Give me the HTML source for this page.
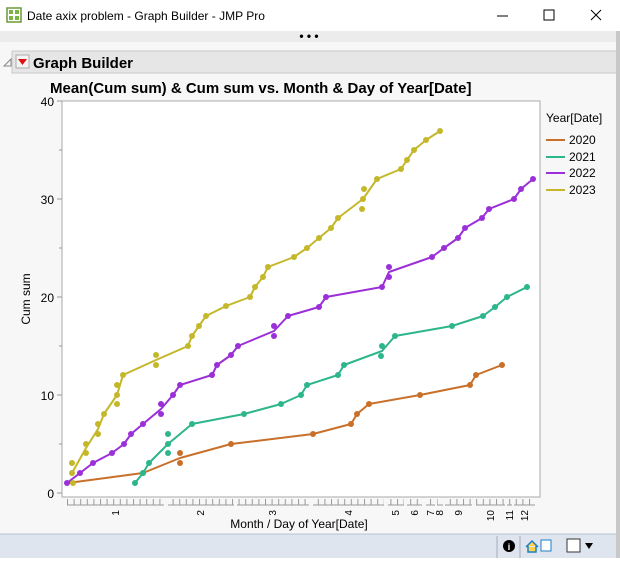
<!DOCTYPE html>
<html><head><meta charset="utf-8"><style>
body{margin:0;width:620px;height:558px;overflow:hidden;background:#fff;font-family:"Liberation Sans",sans-serif;}
</style></head><body>
<svg width="620" height="558" xmlns="http://www.w3.org/2000/svg" font-family="Liberation Sans, sans-serif">
<defs>
<pattern id="tk" x="67" y="0" width="6.6" height="10" patternUnits="userSpaceOnUse"><line x1="0.5" y1="0" x2="0.5" y2="10" stroke="#999" stroke-width="1"/></pattern>
</defs>
<rect x="0" y="0" width="620" height="558" fill="#f6f6f6"/>
<rect x="0" y="0" width="620" height="31" fill="#fff"/>
<rect x="7" y="8" width="14" height="14" fill="none" stroke="#6a9a3a" stroke-width="1.5"/>
<rect x="9" y="10" width="4" height="4" fill="#7cb342"/><rect x="15" y="10" width="4" height="4" fill="#7cb342"/><rect x="9" y="16" width="4" height="4" fill="#7cb342"/><rect x="15" y="16" width="4" height="4" fill="#7cb342"/>
<text x="27" y="20" font-size="12" fill="#000">Date axix problem - Graph Builder - JMP Pro</text>
<line x1="497" y1="16" x2="508" y2="16" stroke="#000"/>
<rect x="544" y="10" width="10" height="10" fill="none" stroke="#000"/>
<path d="M591 10 L601 20 M601 10 L591 20" stroke="#000"/>
<rect x="0" y="31" width="616" height="11" fill="#ececec"/>
<text x="309" y="40" font-size="12" text-anchor="middle" font-weight="bold">• • •</text>
<rect x="0" y="42" width="616" height="494" fill="#f7f7f7"/>
<path d="M4 66 L11 59 L11 66 Z" fill="none" stroke="#888"/>
<rect x="12" y="51" width="608" height="22" fill="#e6e6e6" stroke="#c8c8c8"/>
<rect x="16" y="55" width="13" height="13" fill="#f4f4f4" stroke="#aaa"/>
<path d="M18 59 L27 59 L22.5 65 Z" fill="#d11"/>
<text x="33" y="68" font-size="15" font-weight="bold">Graph Builder</text>
<text x="50" y="93" font-size="15" font-weight="bold">Mean(Cum sum) &amp; Cum sum vs. Month &amp; Day of Year[Date]</text>
<rect x="62" y="101" width="478" height="396" fill="#fff" stroke="#aaa"/>
<g stroke="#999"><line x1="57" y1="101" x2="62" y2="101"/><line x1="57" y1="199" x2="62" y2="199"/><line x1="57" y1="297" x2="62" y2="297"/><line x1="57" y1="395" x2="62" y2="395"/><line x1="57" y1="493" x2="62" y2="493"/><line x1="59" y1="150" x2="62" y2="150"/><line x1="59" y1="248" x2="62" y2="248"/><line x1="59" y1="346" x2="62" y2="346"/><line x1="59" y1="444" x2="62" y2="444"/></g>
<g font-size="12" text-anchor="end" fill="#000"><text x="54" y="106">40</text><text x="54" y="204">30</text><text x="54" y="302">20</text><text x="54" y="400">10</text><text x="54" y="498">0</text></g>
<text transform="translate(30 299) rotate(-90)" font-size="12" text-anchor="middle">Cum sum</text>
<g fill="url(#tk)">
<rect x="67" y="499" width="97" height="6"/><rect x="168" y="499" width="66" height="6"/><rect x="237" y="499" width="72" height="6"/><rect x="313" y="499" width="71" height="6"/><rect x="388" y="499" width="16" height="6"/><rect x="407" y="499" width="15" height="6"/><rect x="426" y="499" width="9" height="6"/><rect x="437" y="499" width="6" height="6"/><rect x="445" y="499" width="27" height="6"/><rect x="476" y="499" width="29" height="6"/><rect x="507" y="499" width="5" height="6"/><rect x="514" y="499" width="21" height="6"/>
</g>
<g stroke="#999"><line x1="67" y1="505" x2="164" y2="505"/><line x1="168" y1="505" x2="234" y2="505"/><line x1="237" y1="505" x2="309" y2="505"/><line x1="313" y1="505" x2="384" y2="505"/><line x1="388" y1="505" x2="404" y2="505"/><line x1="407" y1="505" x2="422" y2="505"/><line x1="426" y1="505" x2="435" y2="505"/><line x1="437" y1="505" x2="443" y2="505"/><line x1="445" y1="505" x2="472" y2="505"/><line x1="476" y1="505" x2="505" y2="505"/><line x1="507" y1="505" x2="512" y2="505"/><line x1="514" y1="505" x2="535" y2="505"/></g>
<g font-size="10" fill="#000">
<text transform="translate(119 510) rotate(-90)" text-anchor="end">1</text>
<text transform="translate(204 510) rotate(-90)" text-anchor="end">2</text>
<text transform="translate(276 510) rotate(-90)" text-anchor="end">3</text>
<text transform="translate(352 510) rotate(-90)" text-anchor="end">4</text>
<text transform="translate(399 510) rotate(-90)" text-anchor="end">5</text>
<text transform="translate(418 510) rotate(-90)" text-anchor="end">6</text>
<text transform="translate(434 510) rotate(-90)" text-anchor="end">7</text>
<text transform="translate(443 510) rotate(-90)" text-anchor="end">8</text>
<text transform="translate(462 510) rotate(-90)" text-anchor="end">9</text>
<text transform="translate(494 510) rotate(-90)" text-anchor="end">10</text>
<text transform="translate(513 510) rotate(-90)" text-anchor="end">11</text>
<text transform="translate(528 510) rotate(-90)" text-anchor="end">12</text>
</g>
<text x="299" y="528" font-size="12" text-anchor="middle">Month / Day of Year[Date]</text>
<g fill="none" stroke-width="2" stroke-linejoin="round">
<polyline stroke="#c8702a" points="68,483 143,473 180,458 231,444 313,434 351,424 357,414 369,404 420,395 470,385 476,375 502,365"/>
<polyline stroke="#2db58c" points="135,483 143,473 149,463 168,444 192,424 244,414 281,404 301,395 307,385 338,375 344,365 382,351 395,336 452,326 483,316 495,307 507,297 527,287"/>
<polyline stroke="#9b2fd8" points="67,483 80,473 93,463 112,453 124,444 131,434 143,424 161,409 173,395 180,385 212,375 217,365 231,355 238,346 274,331 288,316 319,307 326,297 382,287 389,272 432,257 444,248 458,238 465,228 482,218 489,209 514,199 521,189 533,179"/>
<polyline stroke="#c4b72a" points="72,473 86,448 98,429 104,414 117,395 123,375 156,360 188,346 192,336 199,326 206,316 226,306 250,297 255,287 263,277 268,267 294,257 307,248 319,238 331,228 338,218 363,199 377,179 401,169 407,160 414,150 426,140 440,131"/>
</g>
<g fill="#c8702a"><circle cx="143" cy="473" r="3"/><circle cx="180" cy="453" r="3"/><circle cx="180" cy="463" r="3"/><circle cx="231" cy="444" r="3"/><circle cx="313" cy="434" r="3"/><circle cx="351" cy="424" r="3"/><circle cx="357" cy="414" r="3"/><circle cx="369" cy="404" r="3"/><circle cx="420" cy="395" r="3"/><circle cx="470" cy="385" r="3"/><circle cx="476" cy="375" r="3"/><circle cx="502" cy="365" r="3"/></g>
<g fill="#2db58c"><circle cx="135" cy="483" r="3"/><circle cx="143" cy="473" r="3"/><circle cx="149" cy="463" r="3"/><circle cx="168" cy="434" r="3"/><circle cx="168" cy="444" r="3"/><circle cx="168" cy="453" r="3"/><circle cx="192" cy="424" r="3"/><circle cx="244" cy="414" r="3"/><circle cx="281" cy="404" r="3"/><circle cx="301" cy="395" r="3"/><circle cx="307" cy="385" r="3"/><circle cx="338" cy="375" r="3"/><circle cx="344" cy="365" r="3"/><circle cx="382" cy="346" r="3"/><circle cx="381" cy="356" r="3"/><circle cx="395" cy="336" r="3"/><circle cx="452" cy="326" r="3"/><circle cx="483" cy="316" r="3"/><circle cx="495" cy="307" r="3"/><circle cx="507" cy="297" r="3"/><circle cx="527" cy="287" r="3"/></g>
<g fill="#9b2fd8"><circle cx="67" cy="483" r="3"/><circle cx="80" cy="473" r="3"/><circle cx="93" cy="463" r="3"/><circle cx="112" cy="453" r="3"/><circle cx="124" cy="444" r="3"/><circle cx="131" cy="434" r="3"/><circle cx="143" cy="424" r="3"/><circle cx="161" cy="404" r="3"/><circle cx="161" cy="414" r="3"/><circle cx="173" cy="395" r="3"/><circle cx="180" cy="385" r="3"/><circle cx="212" cy="375" r="3"/><circle cx="217" cy="365" r="3"/><circle cx="231" cy="355" r="3"/><circle cx="238" cy="346" r="3"/><circle cx="274" cy="326" r="3"/><circle cx="274" cy="336" r="3"/><circle cx="288" cy="316" r="3"/><circle cx="319" cy="307" r="3"/><circle cx="326" cy="297" r="3"/><circle cx="382" cy="287" r="3"/><circle cx="389" cy="267" r="3"/><circle cx="389" cy="277" r="3"/><circle cx="432" cy="257" r="3"/><circle cx="444" cy="248" r="3"/><circle cx="458" cy="238" r="3"/><circle cx="465" cy="228" r="3"/><circle cx="482" cy="218" r="3"/><circle cx="489" cy="209" r="3"/><circle cx="514" cy="199" r="3"/><circle cx="521" cy="189" r="3"/><circle cx="533" cy="179" r="3"/></g>
<g fill="#c4b72a"><circle cx="72" cy="463" r="3"/><circle cx="72" cy="473" r="3"/><circle cx="73" cy="483" r="3"/><circle cx="86" cy="444" r="3"/><circle cx="86" cy="453" r="3"/><circle cx="98" cy="424" r="3"/><circle cx="98" cy="434" r="3"/><circle cx="104" cy="414" r="3"/><circle cx="117" cy="385" r="3"/><circle cx="117" cy="395" r="3"/><circle cx="117" cy="404" r="3"/><circle cx="123" cy="375" r="3"/><circle cx="156" cy="355" r="3"/><circle cx="156" cy="365" r="3"/><circle cx="188" cy="346" r="3"/><circle cx="192" cy="336" r="3"/><circle cx="199" cy="326" r="3"/><circle cx="206" cy="316" r="3"/><circle cx="226" cy="306" r="3"/><circle cx="250" cy="297" r="3"/><circle cx="255" cy="287" r="3"/><circle cx="263" cy="277" r="3"/><circle cx="268" cy="267" r="3"/><circle cx="294" cy="257" r="3"/><circle cx="307" cy="248" r="3"/><circle cx="319" cy="238" r="3"/><circle cx="331" cy="228" r="3"/><circle cx="338" cy="218" r="3"/><circle cx="363" cy="199" r="3"/><circle cx="364" cy="189" r="3"/><circle cx="362" cy="209" r="3"/><circle cx="377" cy="179" r="3"/><circle cx="401" cy="169" r="3"/><circle cx="407" cy="160" r="3"/><circle cx="414" cy="150" r="3"/><circle cx="426" cy="140" r="3"/><circle cx="440" cy="131" r="3"/></g>
<text x="546" y="122" font-size="12">Year[Date]</text>
<g stroke-width="2"><line x1="546" y1="140" x2="565" y2="140" stroke="#c8702a"/><line x1="546" y1="157" x2="565" y2="157" stroke="#2db58c"/><line x1="546" y1="173" x2="565" y2="173" stroke="#9b2fd8"/><line x1="546" y1="190" x2="565" y2="190" stroke="#c4b72a"/></g>
<g font-size="12"><text x="569" y="144">2020</text><text x="569" y="161">2021</text><text x="569" y="177">2022</text><text x="569" y="194">2023</text></g>
<rect x="0" y="534" width="620" height="24" fill="#dfe5ee"/>
<line x1="0" y1="534" x2="620" y2="534" stroke="#b8c0d0"/>
<line x1="497" y1="536" x2="497" y2="558" stroke="#aab"/><line x1="520" y1="536" x2="520" y2="558" stroke="#aab"/>
<circle cx="509" cy="546" r="6" fill="#000"/><text x="509" y="550" font-size="9" fill="#fff" text-anchor="middle" font-weight="bold">i</text>
<path d="M526 547 L532 541 L538 547 M528 546 L528 552 L536 552 L536 546" fill="#ffd24a" stroke="#1e7fc8" stroke-width="1.5"/>
<rect x="541" y="540" width="10" height="11" fill="#fff" stroke="#1e7fc8"/>
<rect x="567" y="539" width="13" height="13" fill="#fff" stroke="#333"/>
<path d="M585 543 L593 543 L589 549 Z" fill="#000"/>
<rect x="616" y="31" width="4" height="527" fill="#c8c8c8"/>
</svg>
</body></html>
